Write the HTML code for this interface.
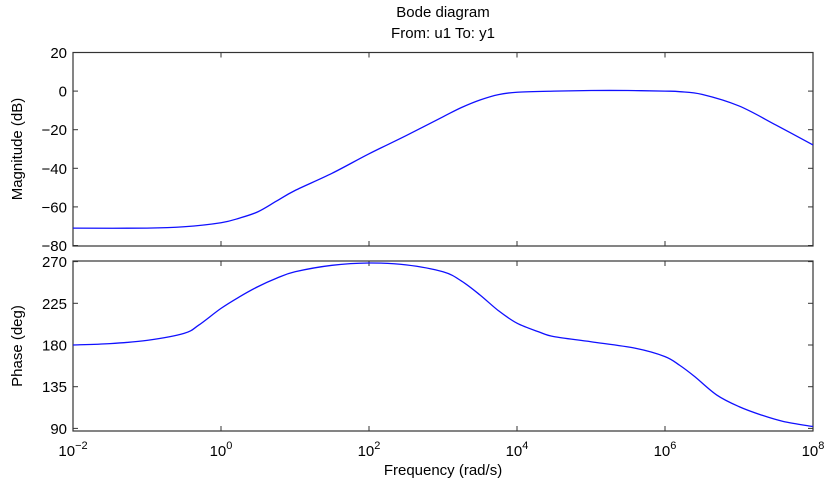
<!DOCTYPE html>
<html><head><meta charset="utf-8"><style>
body{margin:0;background:#fff;width:836px;height:487px;overflow:hidden}
svg{font-family:"Liberation Sans",sans-serif;}
</style></head><body>
<svg id="c" width="836" height="487"></svg>
<script>
const freqLog=[-2,-1,-0.5,0,0.25,0.5,0.75,1,1.5,2,2.5,3,3.25,3.5,3.75,4,4.5,5,5.5,6,6.2,6.5,7,7.5,8];
const magDb=[-71,-71,-70.3,-68.2,-65.8,-62.5,-57,-51.5,-42.6,-32.5,-23.1,-13.3,-8.5,-4.6,-1.8,-0.6,0,0.3,0.3,0,-0.3,-1.7,-7.7,-17.6,-27.9];
const phaseLog=[-2,-1.5,-1,-0.5,-0.3,0,0.25,0.5,0.75,1,1.5,2,2.5,3,3.25,3.5,3.75,4,4.3,4.5,5,5.6,6,6.2,6.4,6.7,7,7.3,7.6,8];
const phaseDeg=[180,181.5,185,192.5,201.5,219.5,232,243,252,259,266,268.5,266.5,259,249,234,217,203.5,194,189,183.5,176.5,167.5,158,146,126,113.5,104.5,97.5,92];
const xTicks=[-2,0,2,4,6,8];
const magTicks=[20,0,-20,-40,-60,-80];
const phTicks=[270,225,180,135,90];
const svg=document.getElementById('c');
const NS='http://www.w3.org/2000/svg';
const L=73,R=813;
const X=v=>L+(v+2)/10*(R-L);
const Ym=v=>52.5+(20-v)/100*193;
const Yp=v=>261.6+(270-v)/180*166.8;
function el(t,a,p){const e=document.createElementNS(NS,t);for(const k in a)e.setAttribute(k,a[k]);(p||svg).appendChild(e);return e;}
function txt(s,a,name){const e=el('text',a);e.textContent=s;


return e;}
function panel(top,bot,name){const r=el('rect',{x:L,y:top,width:R-L,height:bot-top,fill:'none',stroke:'#333','stroke-width':1.2});


xTicks.forEach(t=>{const x=X(t);el('line',{x1:x,x2:x,y1:top,y2:top+5,stroke:'#333'});el('line',{x1:x,x2:x,y1:bot,y2:bot-5,stroke:'#333'});});}
panel(52.5,246,'magnitude-axes');
panel(261,431,'phase-axes');
magTicks.forEach(t=>{const y=Ym(t);el('line',{x1:L,x2:L+5,y1:y,y2:y,stroke:'#333'});el('line',{x1:R,x2:R-5,y1:y,y2:y,stroke:'#333'});
txt(String(t).replace('-','\u2212'),{x:L-6,y:y+5.5,'text-anchor':'end','font-size':15},'mag-tick-label');});
phTicks.forEach(t=>{const y=Yp(t);el('line',{x1:L,x2:L+5,y1:y,y2:y,stroke:'#333'});el('line',{x1:R,x2:R-5,y1:y,y2:y,stroke:'#333'});
txt(String(t),{x:L-6,y:y+5.5,'text-anchor':'end','font-size':15},'phase-tick-label');});
xTicks.forEach(t=>{const e=txt('',{x:X(t),y:456,'text-anchor':'middle','font-size':15},'x-tick-label');
const a=el('tspan',{},e);a.textContent='10';const b=el('tspan',{dy:-7,'font-size':11},e);b.textContent=String(t).replace('-','\u2212');});
function smooth(xs,ys,fy){const p=xs.map((f,i)=>[X(f),fy(ys[i])]);let d='M'+p[0][0]+','+p[0][1];
for(let i=0;i<p.length-1;i++){const p0=p[Math.max(0,i-1)],p1=p[i],p2=p[i+1],p3=p[Math.min(p.length-1,i+2)];
d+='C'+(p1[0]+(p2[0]-p0[0])/6)+','+(p1[1]+(p2[1]-p0[1])/6)+' '+(p2[0]-(p3[0]-p1[0])/6)+','+(p2[1]-(p3[1]-p1[1])/6)+' '+p2[0]+','+p2[1];}
return d;}
const mp=el('path',{d:smooth(freqLog,magDb,Ym),fill:'none',stroke:'#1010ff','stroke-width':1.3});


const pp=el('path',{d:smooth(phaseLog,phaseDeg,Yp),fill:'none',stroke:'#1010ff','stroke-width':1.3});


txt('Bode diagram',{x:443,y:17,'text-anchor':'middle','font-size':15},'chart-title');
txt('From: u1  To: y1',{x:443,y:38,'text-anchor':'middle','font-size':15,'xml:space':'preserve'},'chart-subtitle');
txt('Frequency (rad/s)',{x:443,y:475,'text-anchor':'middle','font-size':15},'x-axis-title');
txt('Magnitude (dB)',{x:0,y:0,'text-anchor':'middle','font-size':15,transform:'translate(22,149) rotate(-90)'},'magnitude-axis-title');
txt('Phase (deg)',{x:0,y:0,'text-anchor':'middle','font-size':15,transform:'translate(22,346) rotate(-90)'},'phase-axis-title');
</script>
</body></html>
